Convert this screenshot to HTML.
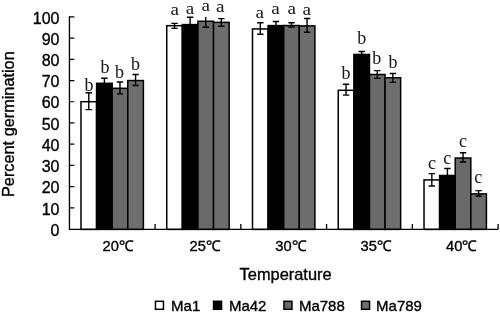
<!DOCTYPE html><html><head><meta charset="utf-8"><title>Percent germination by temperature</title><style>
html,body{margin:0;padding:0;background:#fff;}
svg{display:block;}
.t{font-family:"Liberation Sans",Arial,sans-serif;fill:#000;stroke:#000;stroke-width:0.35px;}
.s{font-family:"Liberation Serif","Times New Roman",serif;fill:#1a1a1a;stroke:#1a1a1a;stroke-width:0.05px;}
.x{font-family:"Liberation Sans","NanumGothic",sans-serif;fill:#000;stroke:#000;stroke-width:0.35px;}
</style></head><body>
<svg width="500" height="313" viewBox="0 0 500 313">
<defs><pattern id="pat788" width="2" height="2" patternUnits="userSpaceOnUse"><rect width="2" height="2" fill="#6d6d6d"/><rect width="1" height="1" fill="#676767"/><rect x="1" y="1" width="1" height="1" fill="#676767"/></pattern></defs>
<rect width="500" height="313" fill="#fff"/>
<rect x="80.98" y="101.70" width="15.60" height="127.70" fill="#ffffff" stroke="#000" stroke-width="1.5"/>
<rect x="96.58" y="83.30" width="15.60" height="146.10" fill="#000000" stroke="#000" stroke-width="1.5"/>
<rect x="112.18" y="88.30" width="15.60" height="141.10" fill="url(#pat788)" stroke="#000" stroke-width="1.5"/>
<rect x="127.78" y="80.55" width="15.60" height="148.85" fill="#6e6e6e" stroke="#000" stroke-width="1.5"/>
<rect x="166.74" y="25.70" width="15.60" height="203.70" fill="#ffffff" stroke="#000" stroke-width="1.5"/>
<rect x="182.34" y="24.60" width="15.60" height="204.80" fill="#000000" stroke="#000" stroke-width="1.5"/>
<rect x="197.94" y="21.25" width="15.60" height="208.15" fill="url(#pat788)" stroke="#000" stroke-width="1.5"/>
<rect x="213.54" y="22.35" width="15.60" height="207.05" fill="#6e6e6e" stroke="#000" stroke-width="1.5"/>
<rect x="252.50" y="28.95" width="15.60" height="200.45" fill="#ffffff" stroke="#000" stroke-width="1.5"/>
<rect x="268.10" y="25.60" width="15.60" height="203.80" fill="#000000" stroke="#000" stroke-width="1.5"/>
<rect x="283.70" y="25.55" width="15.60" height="203.85" fill="url(#pat788)" stroke="#000" stroke-width="1.5"/>
<rect x="299.30" y="25.90" width="15.60" height="203.50" fill="#6e6e6e" stroke="#000" stroke-width="1.5"/>
<rect x="338.26" y="90.30" width="15.60" height="139.10" fill="#ffffff" stroke="#000" stroke-width="1.5"/>
<rect x="353.86" y="54.45" width="15.60" height="174.95" fill="#000000" stroke="#000" stroke-width="1.5"/>
<rect x="369.46" y="74.50" width="15.60" height="154.90" fill="url(#pat788)" stroke="#000" stroke-width="1.5"/>
<rect x="385.06" y="77.80" width="15.60" height="151.60" fill="#6e6e6e" stroke="#000" stroke-width="1.5"/>
<rect x="424.02" y="179.90" width="15.60" height="49.50" fill="#ffffff" stroke="#000" stroke-width="1.5"/>
<rect x="439.62" y="175.50" width="15.60" height="53.90" fill="#000000" stroke="#000" stroke-width="1.5"/>
<rect x="455.22" y="158.00" width="15.60" height="71.40" fill="url(#pat788)" stroke="#000" stroke-width="1.5"/>
<rect x="470.82" y="193.90" width="15.60" height="35.50" fill="#6e6e6e" stroke="#000" stroke-width="1.5"/>
<path d="M88.78 92.80V109.60M85.58 109.60H91.98M85.58 92.80H91.98" stroke="#000" stroke-width="1.4" fill="none"/>
<path d="M104.38 78.30V88.30M101.18 88.30H107.58M101.18 78.30H107.58" stroke="#000" stroke-width="1.4" fill="none"/>
<path d="M119.98 82.00V93.90M116.78 93.90H123.18M116.78 82.00H123.18" stroke="#000" stroke-width="1.4" fill="none"/>
<path d="M135.58 74.50V85.50M132.38 85.50H138.78M132.38 74.50H138.78" stroke="#000" stroke-width="1.4" fill="none"/>
<path d="M174.54 23.40V28.40M171.34 28.40H177.74M171.34 23.40H177.74" stroke="#000" stroke-width="1.4" fill="none"/>
<path d="M190.14 17.30V31.90M186.94 31.90H193.34M186.94 17.30H193.34" stroke="#000" stroke-width="1.4" fill="none"/>
<path d="M205.74 17.10V27.30M202.54 27.30H208.94" stroke="#000" stroke-width="1.4" fill="none"/>
<path d="M221.34 18.60V26.30M218.14 26.30H224.54M218.14 18.60H224.54" stroke="#000" stroke-width="1.4" fill="none"/>
<path d="M260.30 22.70V34.20M257.10 34.20H263.50M257.10 22.70H263.50" stroke="#000" stroke-width="1.4" fill="none"/>
<path d="M275.90 21.50V29.70M272.70 29.70H279.10M272.70 21.50H279.10" stroke="#000" stroke-width="1.4" fill="none"/>
<path d="M291.50 22.70V27.10M288.30 27.10H294.70M288.30 22.70H294.70" stroke="#000" stroke-width="1.4" fill="none"/>
<path d="M307.10 18.50V32.30M303.90 32.30H310.30M303.90 18.50H310.30" stroke="#000" stroke-width="1.4" fill="none"/>
<path d="M346.06 84.30V95.10M342.86 95.10H349.26M342.86 84.30H349.26" stroke="#000" stroke-width="1.4" fill="none"/>
<path d="M361.66 51.50V57.40M358.46 57.40H364.86M358.46 51.50H364.86" stroke="#000" stroke-width="1.4" fill="none"/>
<path d="M377.26 70.60V78.40M374.06 78.40H380.46M374.06 70.60H380.46" stroke="#000" stroke-width="1.4" fill="none"/>
<path d="M392.86 73.50V82.40M389.66 82.40H396.06M389.66 73.50H396.06" stroke="#000" stroke-width="1.4" fill="none"/>
<path d="M431.82 173.60V186.00M428.62 186.00H435.02M428.62 173.60H435.02" stroke="#000" stroke-width="1.4" fill="none"/>
<path d="M447.42 168.50V182.50M444.22 182.50H450.62M444.22 168.50H450.62" stroke="#000" stroke-width="1.4" fill="none"/>
<path d="M463.02 152.70V162.00M459.82 162.00H466.22M459.82 152.70H466.22" stroke="#000" stroke-width="1.4" fill="none"/>
<path d="M478.62 190.60V196.30M475.42 196.30H481.82M475.42 190.60H481.82" stroke="#000" stroke-width="1.4" fill="none"/>
<path d="M69.45 16.29V229.4H498.10" stroke="#000" stroke-width="1.35" fill="none"/>
<path d="M69.45 207.83H74.35000000000001M69.45 186.62H74.35000000000001M69.45 165.40H74.35000000000001M69.45 144.19H74.35000000000001M69.45 122.97H74.35000000000001M69.45 101.75H74.35000000000001M69.45 80.54H74.35000000000001M69.45 59.32H74.35000000000001M69.45 38.11H74.35000000000001M69.45 16.89H74.35000000000001" stroke="#000" stroke-width="1.2" fill="none"/>
<path d="M155.06 229.4V223.9M240.82 229.4V223.9M326.58 229.4V223.9M412.34 229.4V223.9M498.10 229.4V223.9" stroke="#000" stroke-width="1.3" fill="none"/>
<text class="t" x="59.5" y="235.75" font-size="16" text-anchor="end">0</text>
<text class="t" x="59.5" y="214.53" font-size="16" text-anchor="end">10</text>
<text class="t" x="59.5" y="193.32" font-size="16" text-anchor="end">20</text>
<text class="t" x="59.5" y="172.10" font-size="16" text-anchor="end">30</text>
<text class="t" x="59.5" y="150.89" font-size="16" text-anchor="end">40</text>
<text class="t" x="59.5" y="129.67" font-size="16" text-anchor="end">50</text>
<text class="t" x="59.5" y="108.45" font-size="16" text-anchor="end">60</text>
<text class="t" x="59.5" y="87.24" font-size="16" text-anchor="end">70</text>
<text class="t" x="59.5" y="66.02" font-size="16" text-anchor="end">80</text>
<text class="t" x="59.5" y="44.81" font-size="16" text-anchor="end">90</text>
<text class="t" x="59.5" y="23.59" font-size="16" text-anchor="end">100</text>
<text class="t" font-size="16.3" transform="translate(14.2 197.0) rotate(-90)">Percent germination</text>
<text class="x" x="102.50" y="250.8" font-size="14.7">20℃</text>
<text class="x" x="189.50" y="250.8" font-size="14.7">25℃</text>
<text class="x" x="275.30" y="250.8" font-size="14.7">30℃</text>
<text class="x" x="360.50" y="250.8" font-size="14.7">35℃</text>
<text class="x" x="446.00" y="250.8" font-size="14.7">40℃</text>
<text class="t" x="239.6" y="279.5" font-size="16.4">Temperature</text>
<text class="s" x="89.10" y="90.90" font-size="18" text-anchor="middle">b</text>
<text class="s" x="104.90" y="72.90" font-size="18" text-anchor="middle">b</text>
<text class="s" x="119.40" y="77.65" font-size="18" text-anchor="middle">b</text>
<text class="s" x="135.50" y="70.05" font-size="18" text-anchor="middle">b</text>
<text class="s" transform="translate(174.85 14.85) scale(1.06 0.92)" font-size="18" text-anchor="middle">a</text>
<text class="s" transform="translate(189.95 14.15) scale(1.06 0.92)" font-size="18" text-anchor="middle">a</text>
<text class="s" transform="translate(205.70 10.70) scale(1.06 0.92)" font-size="18" text-anchor="middle">a</text>
<text class="s" transform="translate(220.25 12.05) scale(1.06 0.92)" font-size="18" text-anchor="middle">a</text>
<text class="s" transform="translate(259.85 17.90) scale(1.06 0.92)" font-size="18" text-anchor="middle">a</text>
<text class="s" transform="translate(275.45 14.45) scale(1.06 0.92)" font-size="18" text-anchor="middle">a</text>
<text class="s" transform="translate(291.80 14.40) scale(1.06 0.92)" font-size="18" text-anchor="middle">a</text>
<text class="s" transform="translate(306.80 14.70) scale(1.06 0.92)" font-size="18" text-anchor="middle">a</text>
<text class="s" x="346.00" y="78.90" font-size="18" text-anchor="middle">b</text>
<text class="s" x="361.70" y="43.50" font-size="18" text-anchor="middle">b</text>
<text class="s" x="376.65" y="64.20" font-size="18" text-anchor="middle">b</text>
<text class="s" x="393.00" y="67.90" font-size="18" text-anchor="middle">b</text>
<text class="s" x="432.10" y="168.85" font-size="18" text-anchor="middle">c</text>
<text class="s" x="447.30" y="164.25" font-size="18" text-anchor="middle">c</text>
<text class="s" x="462.90" y="146.80" font-size="18" text-anchor="middle">c</text>
<text class="s" x="478.30" y="183.30" font-size="18" text-anchor="middle">c</text>
<rect x="155.45" y="301.3" width="8.0" height="8.0" fill="#fff" stroke="#000" stroke-width="1.5"/>
<text class="t" x="171.10" y="310.8" font-size="15">Ma1</text>
<rect x="213.55" y="301.3" width="8.0" height="8.0" fill="#000" stroke="#000" stroke-width="1.5"/>
<text class="t" x="228.90" y="310.8" font-size="15">Ma42</text>
<rect x="283.95" y="301.3" width="8.0" height="8.0" fill="url(#pat788)" stroke="#000" stroke-width="1.5"/>
<text class="t" x="298.90" y="310.8" font-size="15">Ma788</text>
<rect x="361.55" y="301.3" width="8.0" height="8.0" fill="#6e6e6e" stroke="#000" stroke-width="1.5"/>
<text class="t" x="376.10" y="310.8" font-size="15">Ma789</text>
</svg></body></html>
